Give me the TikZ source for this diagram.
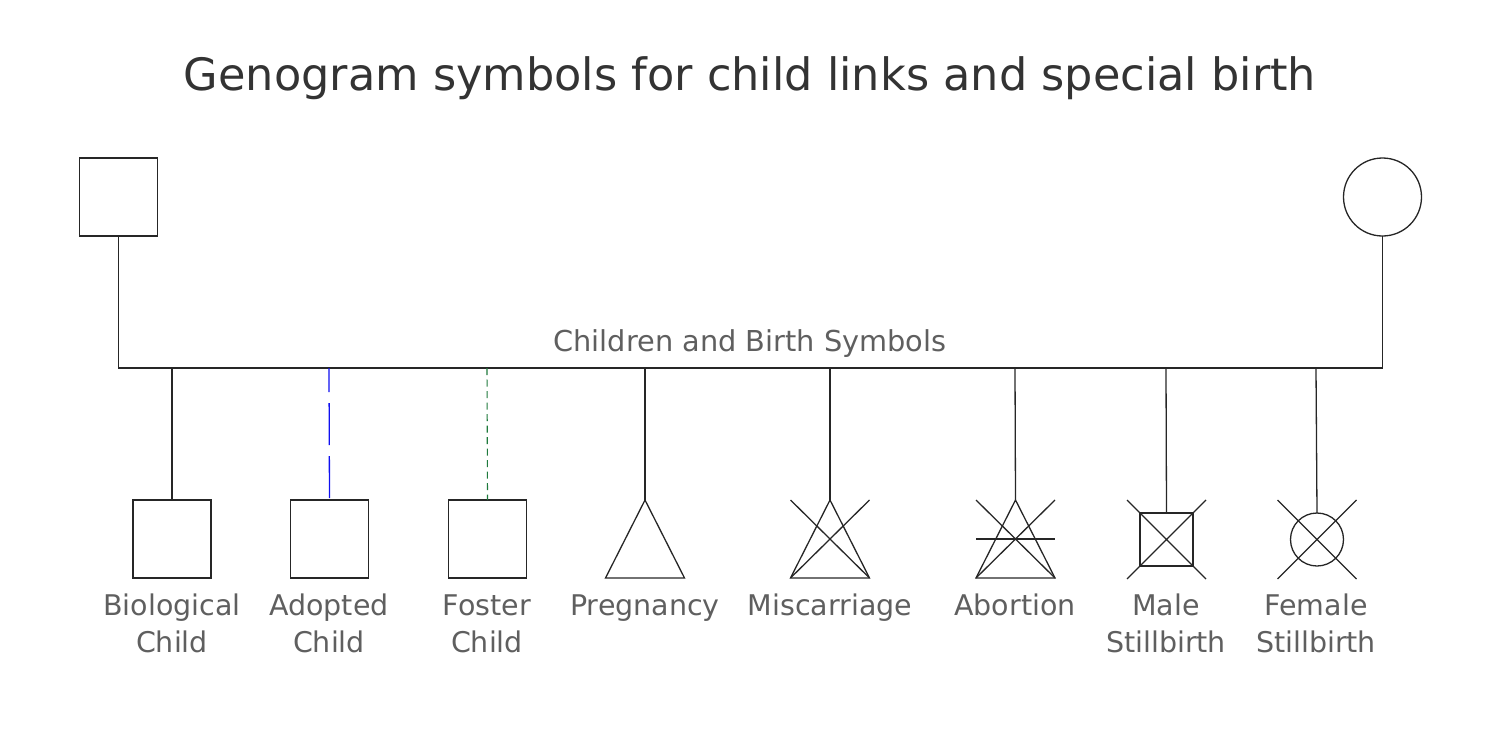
\documentclass[tikz,border=0pt]{standalone}
\usepackage{fontspec}
\setmainfont{DejaVu Sans}
\usetikzlibrary{shapes.geometric}
\definecolor{titlegray}{HTML}{333333}
\definecolor{lblgray}{HTML}{5F5F5F}
\definecolor{adoptblue}{HTML}{1010F0}
\definecolor{fostergreen}{HTML}{1E7A3C}
\tikzset{
  ln/.style={line width=1.3pt, draw=black!85},
  sqbox/.style={draw=black!85, line width=1.3pt, minimum size=78pt, inner sep=0pt, outer sep=0pt},
  circbox/.style={draw=black!85, line width=1.3pt, circle, minimum size=78pt, inner sep=0pt, outer sep=0pt},
  lbl/.style={text=lblgray, font=\fontsize{28.5}{37}\selectfont, align=center, inner sep=0pt, anchor=base},
  adoptline/.style={line width=1.3pt, draw=adoptblue, dash pattern=on 42pt off 11pt, dash phase=18pt},
  fosterline/.style={line width=1.1pt, draw=fostergreen, dash pattern=on 7pt off 4.5pt},
}
\begin{document}
\begin{tikzpicture}[x=1pt,y=-1pt]
\useasboundingbox (0,0) rectangle (1500,737);
\node[text=titlegray, font=\fontsize{44.6}{54}\selectfont, inner sep=0pt, anchor=base] (title) at (750,90) {Genogram symbols for child links and special birth};

% parents
\node[sqbox] (father) at (118.5,197) {};
\node[circbox] (mother) at (1382.5,197) {};
\coordinate (fbus) at (118.5,368);
\coordinate (mbus) at (1382.5,368);
\draw[ln] (father.south) -- (fbus) -- (mbus) -- (mother.south);
\node[text=lblgray, font=\fontsize{28.8}{36}\selectfont, inner sep=0pt, anchor=base] (busl) at (750,351) {Children and Birth Symbols};

% bus points
\foreach \n/\x in {b1/172,b2/329,b3/487,b4/645,b5/830,b6/1015,b7/1166,b8/1316}
  \coordinate (\n) at (\x,368);

% biological
\node[sqbox] (bio) at (172,539) {};
\draw[ln] (b1) -- (bio.north);
% adopted
\node[sqbox] (adopt) at (329.5,539) {};
\draw[adoptline] (b2) -- (adopt.north);
% foster
\node[sqbox] (foster) at (487.5,539) {};
\draw[fosterline] (b3) -- (foster.north);
% pregnancy
\coordinate (preg) at (645,500);
\draw[ln, line join=miter] (preg) -- (684.5,578) -- (605.5,578) -- cycle;
\draw[ln] (b4) -- (preg);
% miscarriage
\coordinate (misc) at (830,500);
\draw[ln] (misc) -- (869.5,578) -- (790.5,578) -- cycle;
\draw[ln] (790.5,500) -- (869.5,578) (869.5,500) -- (790.5,578);
\draw[ln] (b5) -- (misc);
% abortion
\coordinate (abor) at (1015.5,500);
\draw[ln] (abor) -- (1055,578) -- (976,578) -- cycle;
\draw[ln] (976,500) -- (1055,578) (1055,500) -- (976,578);
\draw[ln] (976,539) -- (1055,539);
\draw[ln] (b6) -- (abor);
% male stillbirth
\node[draw=black!85, line width=1.3pt, minimum size=53pt, inner sep=0pt, outer sep=0pt] (msb) at (1166.5,539.5) {};
\draw[ln] (1127,500) -- (1206,579) (1206,500) -- (1127,579);
\draw[ln] (b7) -- (msb.north);
% female stillbirth
\node[draw=black!85, line width=1.3pt, circle, minimum size=53pt, inner sep=0pt, outer sep=0pt] (fsb) at (1317,539.5) {};
\draw[ln] (1277.5,500) -- (1356.5,579) (1356.5,500) -- (1277.5,579);
\draw[ln] (b8) -- (fsb.north);

% labels (two-line labels: base = last line)
\node[lbl] (l1) at (172,652) {Biological\\Child};
\node[lbl] (l2) at (329,652) {Adopted\\Child};
\node[lbl] (l3) at (487,652) {Foster\\Child};
\node[lbl] (l4) at (645,615) {Pregnancy};
\node[lbl] (l5) at (830,615) {Miscarriage};
\node[lbl] (l6) at (1015,615) {Abortion};
\node[lbl] (l7) at (1166,652) {Male\\Stillbirth};
\node[lbl] (l8) at (1316,652) {Female\\Stillbirth};
\end{tikzpicture}
\end{document}
